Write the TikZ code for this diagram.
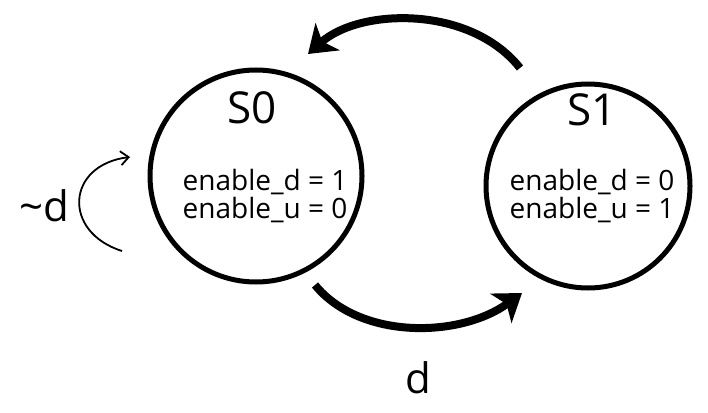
\documentclass[tikz,border=0pt]{standalone}
\usepackage{fontspec}
\setmainfont{Open Sans}
\usetikzlibrary{arrows.meta}
\begin{document}
\begin{tikzpicture}[x=1pt,y=-1pt,
  state/.style={draw,circle,line width=5pt,inner sep=0pt},
  big/.style={line width=8pt,-{Stealth[length=26pt,width=36pt,inset=7pt]}},
  thin/.style={line width=1.8pt,-{Straight Barb[length=8pt,width=14pt]}},
  lbl/.style={font=\fontsize{28}{28}\selectfont,align=center,inner sep=0pt}]
\useasboundingbox (0,0) rectangle (708,412);
\node[state,minimum size=212pt] (s0) at (256,176) {};
\node[state,minimum size=204pt] (s1) at (588,186) {};
\node[font=\fontsize{44}{46}\selectfont] (t0) at (252,108) {S0};
\node[font=\fontsize{44}{46}\selectfont] (t1) at (592,110) {S1};
\node[lbl] (o0) at (265,196) {enable\_d = 1\\enable\_u = 0};
\node[lbl] (o1) at (592,196) {enable\_d = 0\\enable\_u = 1};
\coordinate (a1) at (520,68);
\coordinate (a2) at (308,54);
\coordinate (b1) at (315,285);
\coordinate (b2) at (522,293);
\coordinate (c1) at (122,251);
\coordinate (c2) at (130,157);
\draw[big] (a1) .. controls (470,5) and (360,8) .. (a2);
\draw[big] (b1) .. controls (360,340) and (460,338) .. (b2);
\draw[thin] (c1) .. controls (62,232) and (66,165) .. (c2);
\node[font=\fontsize{42}{44}\selectfont] (d) at (418,378) {d};
\node[font=\fontsize{42}{44}\selectfont] (nd) at (44,206) {\textasciitilde d};
\end{tikzpicture}
\end{document}
